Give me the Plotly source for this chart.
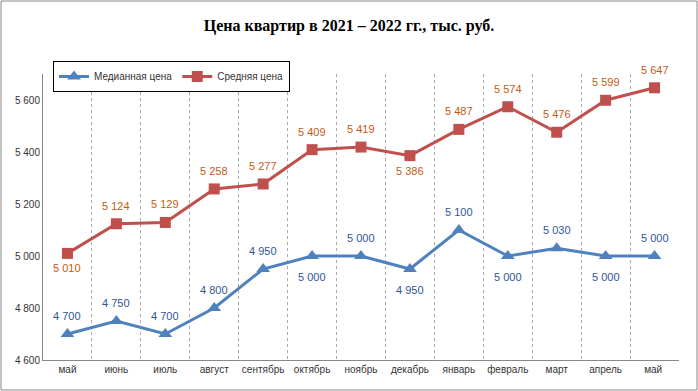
import plotly.graph_objects as go

months = ["май", "июнь", "июль", "август", "сентябрь", "октябрь", "ноябрь",
          "декабрь", "январь", "февраль", "март", "апрель", "май "]
median_price = [4700, 4750, 4700, 4800, 4950, 5000, 5000, 4950, 5100, 5000, 5030, 5000, 5000]
mean_price = [5010, 5124, 5129, 5258, 5277, 5409, 5419, 5386, 5487, 5574, 5476, 5599, 5647]
# label side: 1 = above the point, -1 = below
median_side = [1, 1, 1, 1, 1, -1, 1, -1, 1, -1, 1, -1, 1]
mean_side = [-1, 1, 1, 1, 1, 1, 1, -1, 1, 1, 1, 1, 1]


def fmt(v):
    return f"{v:,}".replace(",", " ")


W, H = 698, 391
L, R, T, B = 43, 19, 74, 31
pw = W - L - R
ph = H - T - B
x = list(range(len(months)))

fig = go.Figure()
fig.add_trace(go.Scatter(
    x=x, y=median_price, name="Медианная цена", mode="lines+markers",
    line=dict(color="#4F81BD", width=3),
    marker=dict(symbol="triangle-up", size=12, color="#4F81BD"),
    cliponaxis=False,
))
fig.add_trace(go.Scatter(
    x=x, y=mean_price, name="Средняя цена", mode="lines+markers",
    line=dict(color="#C0504D", width=3),
    marker=dict(symbol="square", size=11, color="#C0504D"),
    cliponaxis=False,
))

annotations = []
for xi, v, s in zip(x, median_price, median_side):
    annotations.append(dict(x=xi, y=v, text=fmt(v), showarrow=False,
                            yshift=18 if s > 0 else -21,
                            font=dict(color="#2F5597", size=11, family="Liberation Sans")))
for xi, v, s in zip(x, mean_price, mean_side):
    annotations.append(dict(x=xi, y=v, text=fmt(v), showarrow=False,
                            yshift=18 if s > 0 else -15,
                            font=dict(color="#C55A11", size=11, family="Liberation Sans")))

fig.update_layout(
    width=W, height=H,
    margin=dict(l=L, r=R, t=T, b=B),
    paper_bgcolor="white", plot_bgcolor="white",
    title=dict(text="<b>Цена квартир в 2021 – 2022 гг., тыс. руб.</b>",
               x=0.5, xanchor="center", y=1 - 25 / H, yanchor="middle",
               font=dict(family="Liberation Serif", size=16, color="black")),
    font=dict(family="Liberation Sans", size=10, color="#333"),
    showlegend=True,
    legend=dict(orientation="h", x=10 / pw, xanchor="left", y=1 + 13 / ph, yanchor="top",
                bordercolor="black", borderwidth=1, bgcolor="white",
                font=dict(size=10, color="#333"), itemwidth=30,
                tracegroupgap=0),
    annotations=annotations,
    xaxis=dict(
        range=[-0.5, 12.5], tickmode="array",
        tickvals=x, ticktext=months,
        showgrid=False, showline=True, linecolor="#888", linewidth=1,
        ticks="", zeroline=False,
        minor=dict(tickmode="array", tickvals=[i + 0.5 for i in range(13)],
                   showgrid=True, gridcolor="#aaa", griddash="dot", gridwidth=1),
        tickfont=dict(size=10, color="#333"),
    ),
    yaxis=dict(
        range=[4600, 5700], tickmode="array", tickvals=[4600, 4800, 5000, 5200, 5400, 5600],
        ticktext=["4 600", "4 800", "5 000", "5 200", "5 400", "5 600"],
        showgrid=False, showline=True, linecolor="#888", linewidth=1,
        ticks="", zeroline=False, tickfont=dict(size=10, color="#333"),
    ),
    shapes=[dict(type="rect", xref="paper", yref="paper",
                 x0=-(L - 1) / pw, x1=1 + (R - 1) / pw,
                 y0=-(B - 1) / ph, y1=1 + (T - 1) / ph,
                 line=dict(color="#888", width=1))],
)
fig.write_html("out.html", config={"displayModeBar": False},
               post_script="document.body.style.margin='0';document.body.style.overflow='hidden';")
